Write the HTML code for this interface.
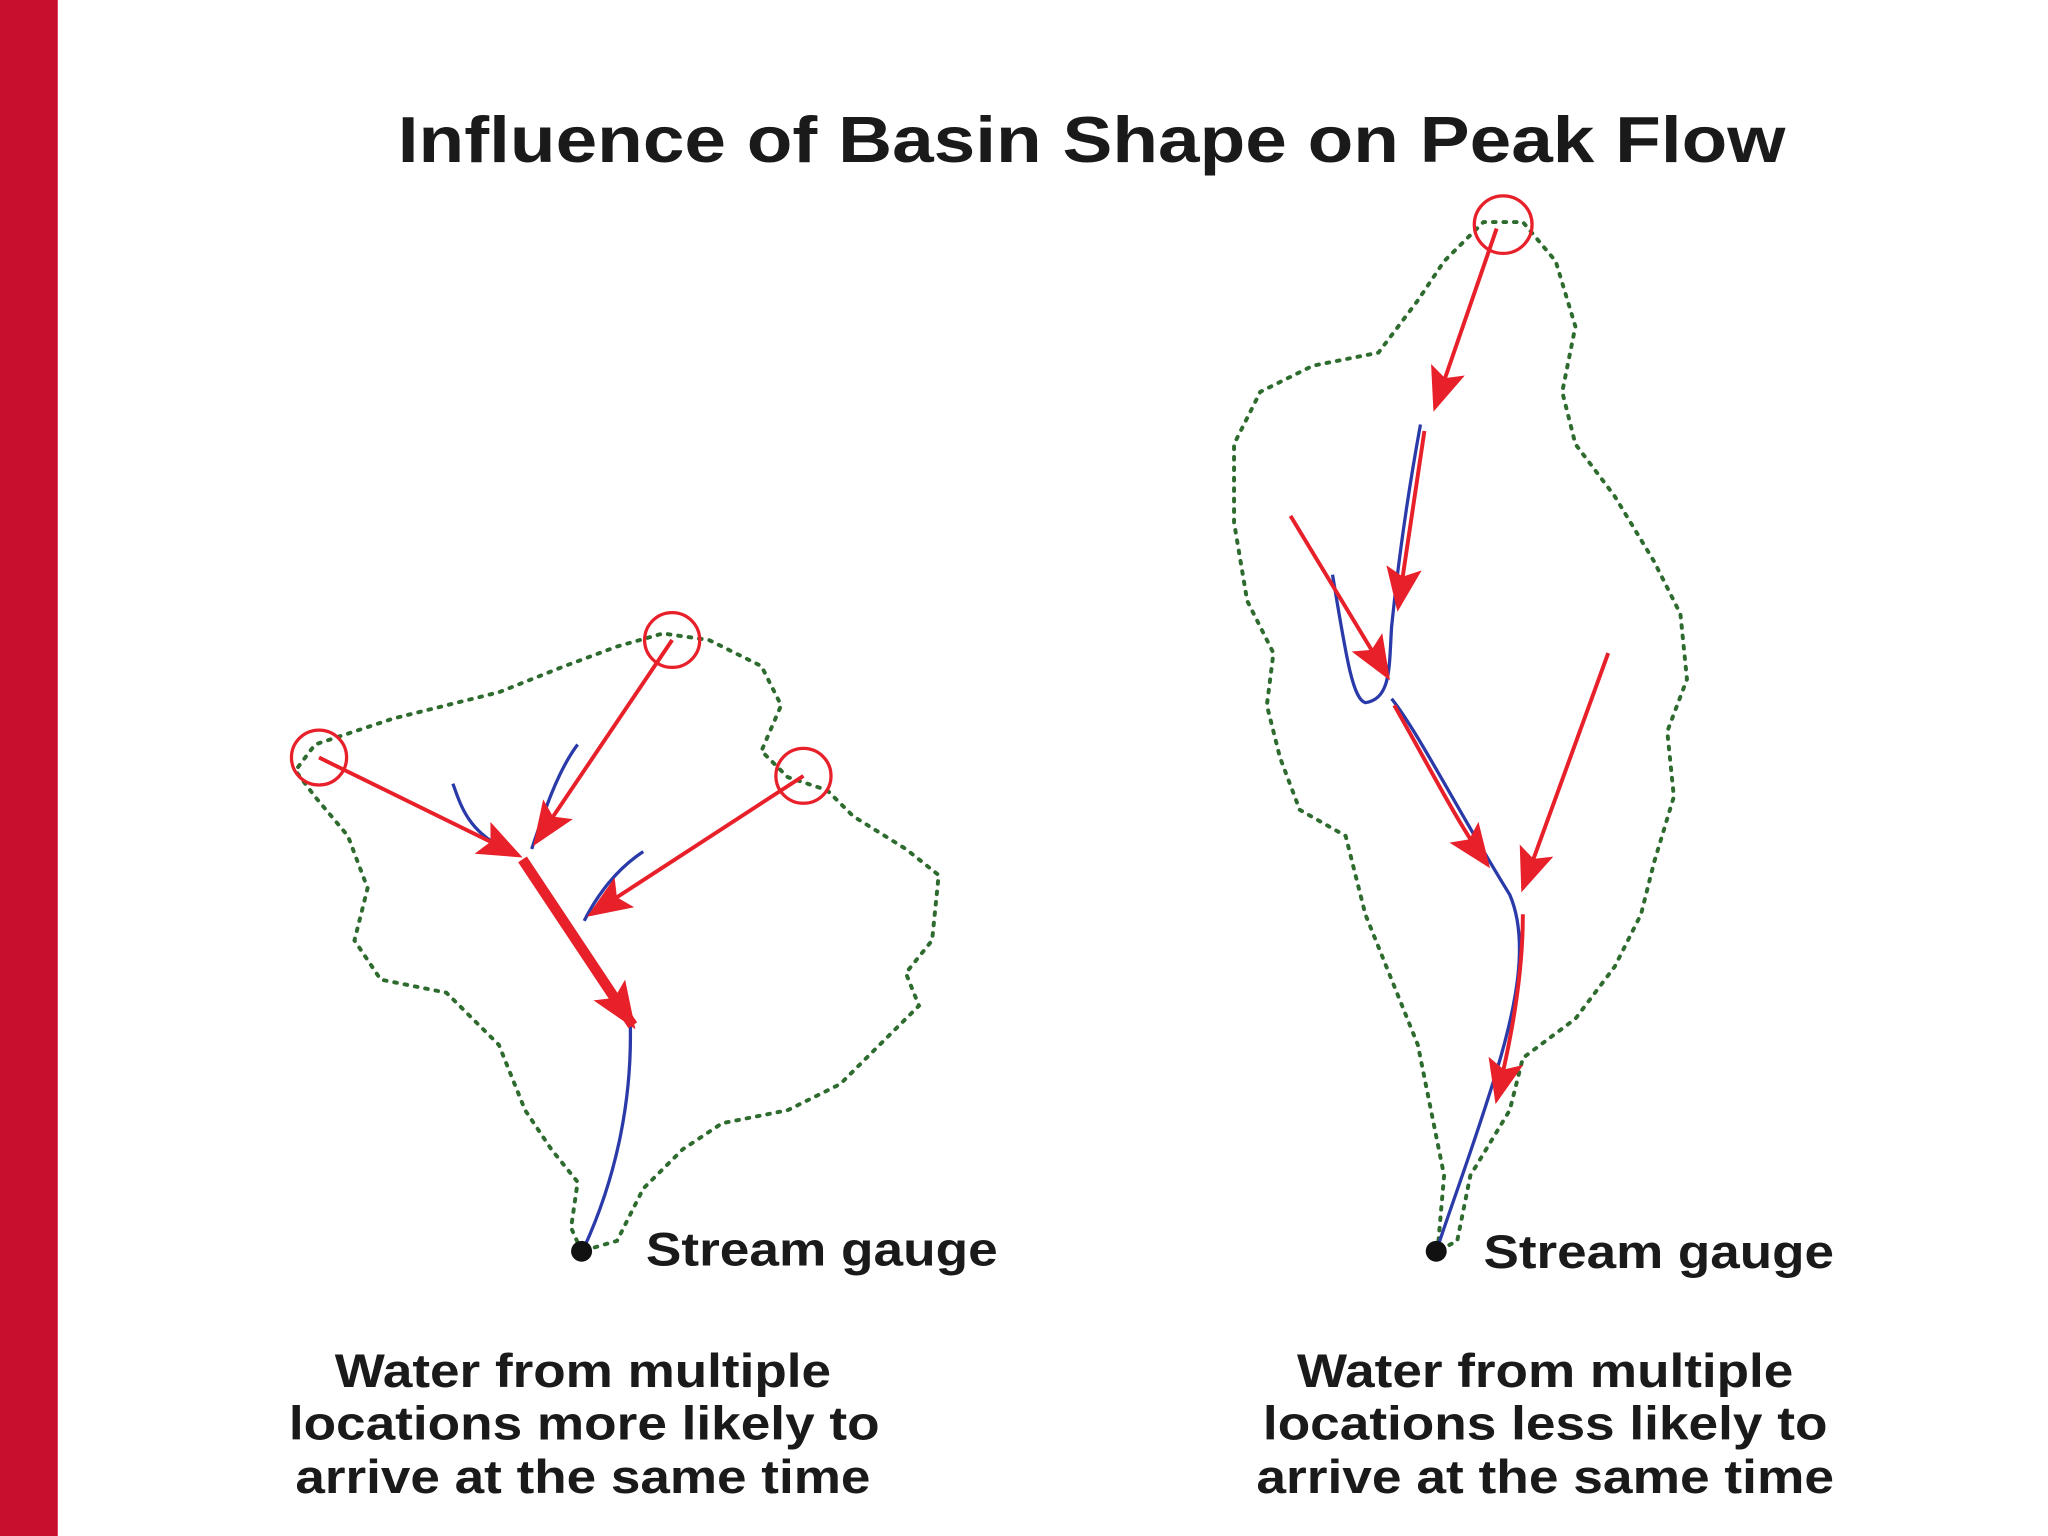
<!DOCTYPE html>
<html><head><style>html,body{margin:0;padding:0;background:#fff}svg{display:block}</style></head>
<body>
<svg width="2048" height="1536" viewBox="0 0 1560 1176" preserveAspectRatio="none" xmlns="http://www.w3.org/2000/svg">
<defs>
<marker id="ah2" viewBox="0 0 10 10" refX="9" refY="5" markerWidth="34" markerHeight="34" markerUnits="userSpaceOnUse" orient="auto"><path d="M0,1 L10,5 L0,9 L2,5 Z" fill="#e8202a"/></marker>
<marker id="ah3" viewBox="0 0 10 10" refX="9" refY="5" markerWidth="36" markerHeight="36" markerUnits="userSpaceOnUse" orient="auto"><path d="M0,1 L10,5 L0,9 L2,5 Z" fill="#e8202a"/></marker>
</defs>
<rect x="0" y="0" width="1560" height="1176" fill="#fff"/>
<rect x="0" y="0" width="44" height="1176" fill="#c8102e"/>
<text x="303" y="124" textLength="1057" lengthAdjust="spacingAndGlyphs" font-family="Liberation Sans, sans-serif" font-weight="bold" font-size="50" fill="#1a1a1a">Influence of Basin Shape on Peak Flow</text>

<g fill="none" stroke="#2e6b2e" stroke-width="3" stroke-dasharray="2 6" stroke-linecap="round">
<path d="M443,958 L435,940 440,905 420,880 400,850 380,800 340,760 290,750 270,720 280,680 265,640 240,610 225,590 240,570 300,550 380,530 430,510 470,495 505,485 540,490 580,510 595,540 580,575 600,595 630,605 650,625 690,650 715,670 710,720 690,745 700,770 670,800 640,830 600,850 550,860 520,880 490,910 470,950 Z"/>
<path d="M1095,958 L1100,900 1090,850 1080,800 1060,750 1040,700 1025,640 990,620 975,580 965,540 970,500 950,460 940,400 940,340 960,300 1000,280 1050,270 1080,230 1100,200 1130,170 1160,170 1185,200 1200,250 1190,300 1200,340 1230,380 1260,430 1280,470 1285,520 1270,560 1275,610 1260,660 1250,700 1230,740 1200,780 1160,810 1150,850 1120,900 1110,950 Z"/>
</g>

<g fill="none" stroke="#2a3aa8" stroke-width="2.5">
<path d="M480,780 C482,840 470,900 445,955"/>
<path d="M345,600 C352,620 358,640 395,655"/>
<path d="M440,570 C425,590 415,620 405,650"/>
<path d="M490,652 C470,665 455,685 445,705"/>
<path d="M1082,325 C1072,380 1065,430 1060,480 C1058,510 1060,535 1040,538 C1030,535 1025,500 1015,440"/>
<path d="M1060,535 C1080,560 1110,620 1150,685 C1165,720 1155,770 1140,820 C1125,870 1110,910 1095,955"/>
</g>

<g fill="none" stroke="#e8202a" stroke-width="2.5">
<circle cx="243" cy="580" r="21"/>
<circle cx="512" cy="490" r="21"/>
<circle cx="612" cy="594" r="21"/>
<circle cx="1145" cy="172" r="22"/>
</g>
<g fill="none" stroke="#e8202a" stroke-width="3">
<line x1="243" y1="580" x2="395" y2="655" marker-end="url(#ah2)"/>
<line x1="512" y1="490" x2="408" y2="645" marker-end="url(#ah2)"/>
<line x1="612" y1="594" x2="450" y2="700" marker-end="url(#ah2)"/>
<line x1="398" y1="658" x2="482" y2="785" stroke-width="8" marker-end="url(#ah3)"/>
<line x1="1140" y1="175" x2="1093" y2="312" marker-end="url(#ah2)"/>
<line x1="1085" y1="330" x2="1065" y2="465" marker-end="url(#ah2)"/>
<line x1="983" y1="395" x2="1057" y2="518" marker-end="url(#ah2)"/>
<path d="M1062,540 C1085,580 1110,630 1133,662" marker-end="url(#ah2)"/>
<line x1="1225" y1="500" x2="1160" y2="680" marker-end="url(#ah2)"/>
<path d="M1160,700 C1160,750 1150,800 1140,842" marker-end="url(#ah2)"/>
</g>

<circle cx="443" cy="958" r="8" fill="#111"/>
<circle cx="1094" cy="958" r="8" fill="#111"/>
<g font-family="Liberation Sans, sans-serif" font-weight="bold" font-size="36" fill="#1a1a1a" lengthAdjust="spacingAndGlyphs">
<text x="492" y="969" textLength="268" lengthAdjust="spacingAndGlyphs">Stream gauge</text>
<text x="1130" y="971" textLength="267" lengthAdjust="spacingAndGlyphs">Stream gauge</text>
<text x="255" y="1062" textLength="378" lengthAdjust="spacingAndGlyphs">Water from multiple</text>
<text x="220" y="1102" textLength="450" lengthAdjust="spacingAndGlyphs">locations more likely to</text>
<text x="225" y="1143" textLength="438" lengthAdjust="spacingAndGlyphs">arrive at the same time</text>
<text x="988" y="1062" textLength="378" lengthAdjust="spacingAndGlyphs">Water from multiple</text>
<text x="962" y="1102" textLength="430" lengthAdjust="spacingAndGlyphs">locations less likely to</text>
<text x="957" y="1143" textLength="440" lengthAdjust="spacingAndGlyphs">arrive at the same time</text>
</g>
</svg>
</body></html>
